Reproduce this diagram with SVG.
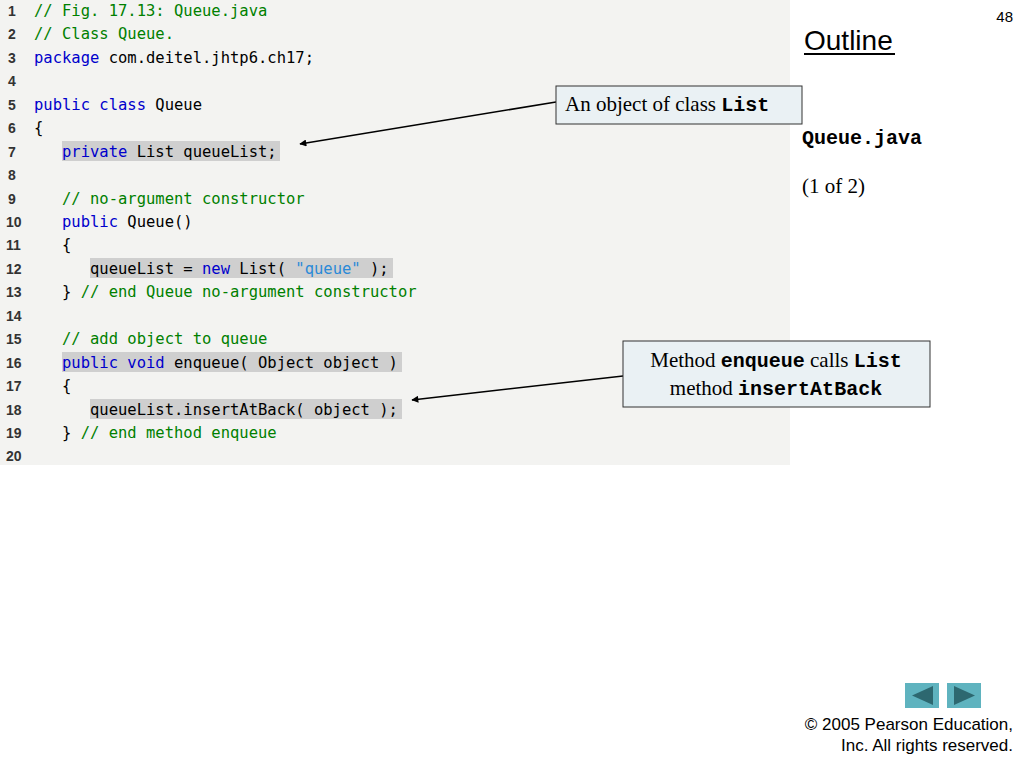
<svg xmlns="http://www.w3.org/2000/svg" width="1024" height="768" viewBox="0 0 1024 768">
<style>
.c{font-family:"DejaVu Sans Mono","Liberation Mono",monospace;font-size:15.5px;fill:#000;white-space:pre}
.n{font-family:"Liberation Sans",Arial,sans-serif;font-size:14px;fill:#333;font-weight:bold}
.g{fill:#008000}.k{fill:#0000cc}.s{fill:#2a8ad8}
.hl{fill:#cfcfcf}
.cb{fill:#eaf1f4;stroke:#333;stroke-width:1}
.ct{font-family:"Liberation Serif","Times New Roman",serif;font-size:21px;fill:#000}
.m{font-family:"Liberation Mono","Courier New",monospace;font-weight:bold;font-size:20px}
.conn{stroke:#000;stroke-width:1.5;fill:none;marker-end:url(#ah)}
.sans{font-family:"Liberation Sans",Arial,sans-serif;fill:#000}
</style>
<defs><marker id="ah" viewBox="0 0 10 10" refX="9" refY="5" markerWidth="8" markerHeight="7" orient="auto" markerUnits="userSpaceOnUse"><path d="M0,0L10,5L0,10z" fill="#000"/></marker></defs>
<rect width="1024" height="768" fill="#fff"/>
<g id="code">
<rect x="0" y="0" width="790" height="465" fill="#f3f3f1"/>
<rect class="hl" x="62" y="141" width="218" height="20"/>
<rect class="hl" x="90" y="258" width="303" height="20"/>
<rect class="hl" x="62" y="352" width="340" height="20"/>
<rect class="hl" x="90" y="399" width="312" height="20"/>
<g class="n"><text x="8" y="16">1</text><text x="8" y="39">2</text><text x="8" y="63">3</text><text x="8" y="86">4</text><text x="8" y="110">5</text><text x="8" y="133">6</text><text x="8" y="157">7</text><text x="8" y="180">8</text><text x="8" y="204">9</text><text x="6" y="227">10</text><text x="6" y="250">11</text><text x="6" y="274">12</text><text x="6" y="297">13</text><text x="6" y="321">14</text><text x="6" y="344">15</text><text x="6" y="368">16</text><text x="6" y="391">17</text><text x="6" y="415">18</text><text x="6" y="438">19</text><text x="6" y="461">20</text></g>
<text class="c" x="34" y="16"><tspan class="g">// Fig. 17.13: Queue.java</tspan></text>
<text class="c" x="34" y="39"><tspan class="g">// Class Queue.</tspan></text>
<text class="c" x="34" y="63"><tspan class="k">package</tspan> com.deitel.jhtp6.ch17;</text>
<text class="c" x="34" y="110"><tspan class="k">public class</tspan> Queue</text>
<text class="c" x="34" y="133">{</text>
<text class="c" x="34" y="157">   <tspan class="k">private</tspan> List queueList;</text>
<text class="c" x="34" y="204">   <tspan class="g">// no-argument constructor</tspan></text>
<text class="c" x="34" y="227">   <tspan class="k">public</tspan> Queue()</text>
<text class="c" x="34" y="250">   {</text>
<text class="c" x="34" y="274">      queueList = <tspan class="k">new</tspan> List( <tspan class="s">"queue"</tspan> );</text>
<text class="c" x="34" y="297">   } <tspan class="g">// end Queue no-argument constructor</tspan></text>
<text class="c" x="34" y="344">   <tspan class="g">// add object to queue</tspan></text>
<text class="c" x="34" y="368">   <tspan class="k">public void</tspan> enqueue( Object object )</text>
<text class="c" x="34" y="391">   {</text>
<text class="c" x="34" y="415">      queueList.insertAtBack( object );</text>
<text class="c" x="34" y="438">   } <tspan class="g">// end method enqueue</tspan></text>
</g>
<g id="connectors">
<path class="conn" d="M556,102L300,144"/>
<path class="conn" d="M623,376L412,400"/>
</g>
<g id="callout1">
<rect class="cb" x="556" y="86" width="246" height="38"/>
<text class="ct" x="565" y="111">An object of class <tspan class="m">List</tspan></text>
</g>
<g id="callout2">
<rect class="cb" x="623" y="341" width="307" height="66"/>
<text class="ct" x="776" y="367" text-anchor="middle">Method <tspan class="m">enqueue</tspan> calls <tspan class="m">List</tspan></text>
<text class="ct" x="776" y="395" text-anchor="middle">method <tspan class="m">insertAtBack</tspan></text>
</g>
<g id="side">
<text class="sans" x="1013" y="22" font-size="15" text-anchor="end">48</text>
<text class="sans" x="804" y="50" font-size="28">Outline</text>
<rect x="804" y="53" width="91" height="2" fill="#000"/>
<text class="m" x="802" y="144">Queue.java</text>
<text class="ct" x="802" y="193">(1 of 2)</text>
</g>
<g id="nav">
<rect x="905" y="683" width="34" height="25" fill="#5fb3bf"/>
<path d="M912,695.5L933,686V705z" fill="#2d6870"/>
<rect x="947" y="683" width="34" height="25" fill="#5fb3bf"/>
<path d="M975,695.5L954,686V705z" fill="#2d6870"/>
</g>
<g id="copyright" class="sans" font-size="17">
<text x="1013" y="730" text-anchor="end">© 2005 Pearson Education,</text>
<text x="1013" y="751" text-anchor="end">Inc.  All rights reserved.</text>
</g>
</svg>
